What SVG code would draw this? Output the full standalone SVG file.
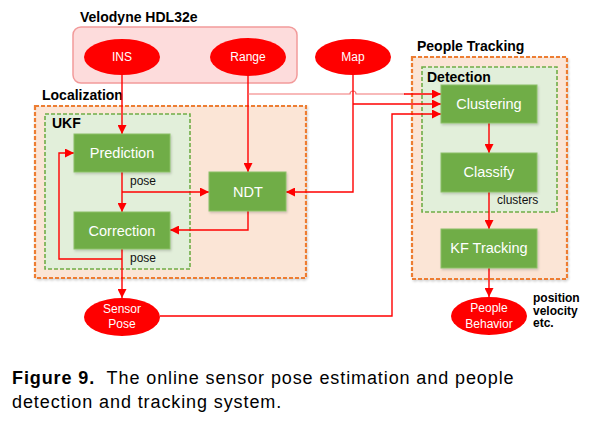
<svg xmlns="http://www.w3.org/2000/svg" width="594" height="432" viewBox="0 0 594 432">
<defs>
<marker id="arr" markerWidth="9" markerHeight="9" refX="8" refY="4" orient="auto" markerUnits="userSpaceOnUse" viewBox="0 0 8 8">
<path d="M0,0 L8,4 L0,8 z" fill="#ff0000"/>
</marker>
<filter id="sh" x="-10%" y="-10%" width="130%" height="130%">
<feDropShadow dx="1" dy="1.5" stdDeviation="1.2" flood-color="#000" flood-opacity="0.18"/>
</filter>
</defs>
<style>
.hdr{font-family:"Liberation Sans",Arial,sans-serif;font-weight:bold;font-size:14px;fill:#000}
.box{fill:#70ad47;stroke:#8cc068;stroke-width:1}
.btxt{font-family:"Liberation Sans",Arial,sans-serif;font-size:14.5px;fill:#fff;text-anchor:middle}
.ell{fill:#ff0000}
.etxt{font-family:"Liberation Sans",Arial,sans-serif;font-size:12px;fill:#fff;text-anchor:middle}
.lbl{font-family:"Liberation Sans",Arial,sans-serif;font-size:12px;fill:#111}
.orange{fill:#fbe5d6;stroke:#ed7d31;stroke-width:2.2;stroke-dasharray:4,2}
.green{fill:#e2efda;stroke:#70ad47;stroke-width:1.6;stroke-dasharray:4,2}
.ln{fill:none;stroke:#ff0000;stroke-width:1.4}
.cap{font-family:"Liberation Sans",Arial,sans-serif;font-size:18px;fill:#000;letter-spacing:0.9px}
</style>
<rect width="594" height="432" fill="#fff"/>

<g id="velodyne">
<rect x="73" y="27" width="224" height="56" rx="8" fill="#fddcdc" stroke="#f29a9a" stroke-width="1.5"/>
<text class="hdr" x="80" y="22">Velodyne HDL32e</text>
</g>

<g id="localization">
<rect class="orange" x="35" y="106" width="271" height="172" filter="url(#sh)"/>
<text class="hdr" x="42" y="100">Localization</text>
</g>
<g id="ukf">
<rect class="green" x="45" y="114" width="145" height="155"/>
<text class="hdr" x="52" y="128">UKF</text>
</g>

<g id="people-tracking">
<rect class="orange" x="412" y="57" width="155" height="222" filter="url(#sh)"/>
<text class="hdr" x="417" y="51">People Tracking</text>
</g>
<g id="detection">
<rect class="green" x="422" y="67" width="135" height="145"/>
<text class="hdr" x="427" y="82">Detection</text>
</g>

<g id="connectors">
<line class="ln" x1="122" y1="75" x2="122" y2="134" marker-end="url(#arr)"/>
<line class="ln" x1="248" y1="76" x2="248" y2="172" marker-end="url(#arr)"/>
<path d="M248,94 H350 A3,3 0 0 1 356,94 H405" fill="none" stroke="#f27474" stroke-width="1.2"/>
<line class="ln" x1="404" y1="94" x2="441" y2="94" marker-end="url(#arr)"/>
<polyline class="ln" points="353,75 353,192 286,192" marker-end="url(#arr)"/>
<polyline class="ln" points="353,104 441,104" marker-end="url(#arr)"/>
<polyline class="ln" points="160,316 392,316 392,114 441,114" marker-end="url(#arr)"/>
<line class="ln" x1="122" y1="172" x2="122" y2="212" marker-end="url(#arr)"/>
<polyline class="ln" points="122,192 209,192" marker-end="url(#arr)"/>
<polyline class="ln" points="248,211 248,230 170,230" marker-end="url(#arr)"/>
<line class="ln" x1="122" y1="249" x2="122" y2="298" marker-end="url(#arr)"/>
<polyline class="ln" points="122,259 59,259 59,153 74,153" marker-end="url(#arr)"/>
<line class="ln" x1="489" y1="123" x2="489" y2="153" marker-end="url(#arr)"/>
<line class="ln" x1="489" y1="192" x2="489" y2="229" marker-end="url(#arr)"/>
<line class="ln" x1="489" y1="268" x2="489" y2="297" marker-end="url(#arr)"/>
</g>

<g id="ins"><ellipse class="ell" cx="122" cy="57" rx="38" ry="18"/><text class="etxt" x="122" y="61">INS</text></g>
<g id="range"><ellipse class="ell" cx="248" cy="57" rx="38" ry="19"/><text class="etxt" x="248" y="61">Range</text></g>
<g id="map"><ellipse class="ell" cx="353" cy="57" rx="38" ry="18"/><text class="etxt" x="353" y="61">Map</text></g>

<g id="prediction"><rect class="box" x="74" y="134" width="96" height="38" filter="url(#sh)"/><text class="btxt" x="122" y="158">Prediction</text></g>
<g id="correction"><rect class="box" x="74" y="212" width="96" height="37" filter="url(#sh)"/><text class="btxt" x="122" y="236">Correction</text></g>
<g id="ndt"><rect class="box" x="209" y="172" width="77" height="39" filter="url(#sh)"/><text class="btxt" x="248" y="197">NDT</text></g>
<g id="clustering"><rect class="box" x="441" y="85" width="96" height="38" filter="url(#sh)"/><text class="btxt" x="489" y="109">Clustering</text></g>
<g id="classify"><rect class="box" x="441" y="153" width="96" height="39" filter="url(#sh)"/><text class="btxt" x="489" y="177">Classify</text></g>
<g id="kf-tracking"><rect class="box" x="441" y="229" width="96" height="39" filter="url(#sh)"/><text class="btxt" x="489" y="253">KF Tracking</text></g>

<g id="sensor-pose"><ellipse class="ell" cx="122" cy="317" rx="38" ry="19"/><text class="etxt" x="122" y="313">Sensor</text><text class="etxt" x="122" y="328">Pose</text></g>
<g id="people-behavior"><ellipse class="ell" cx="489" cy="316" rx="38" ry="19"/><text class="etxt" x="489" y="312">People</text><text class="etxt" x="489" y="328">Behavior</text></g>

<g id="labels">
<text class="lbl" x="130" y="185">pose</text>
<text class="lbl" x="130" y="262">pose</text>
<text class="lbl" x="497" y="204">clusters</text>
<text font-family="'Liberation Sans',Arial,sans-serif" font-size="12px" font-weight="bold" fill="#000"><tspan x="533" y="302">position</tspan><tspan x="533" y="314.5">velocity</tspan><tspan x="533" y="327">etc.</tspan></text>
</g>

<g id="caption">
<text class="cap" x="12" y="384" xml:space="preserve"><tspan font-weight="bold">Figure 9.</tspan>  The online sensor pose estimation and people</text>
<text class="cap" x="12" y="408">detection and tracking system.</text>
</g>
</svg>
